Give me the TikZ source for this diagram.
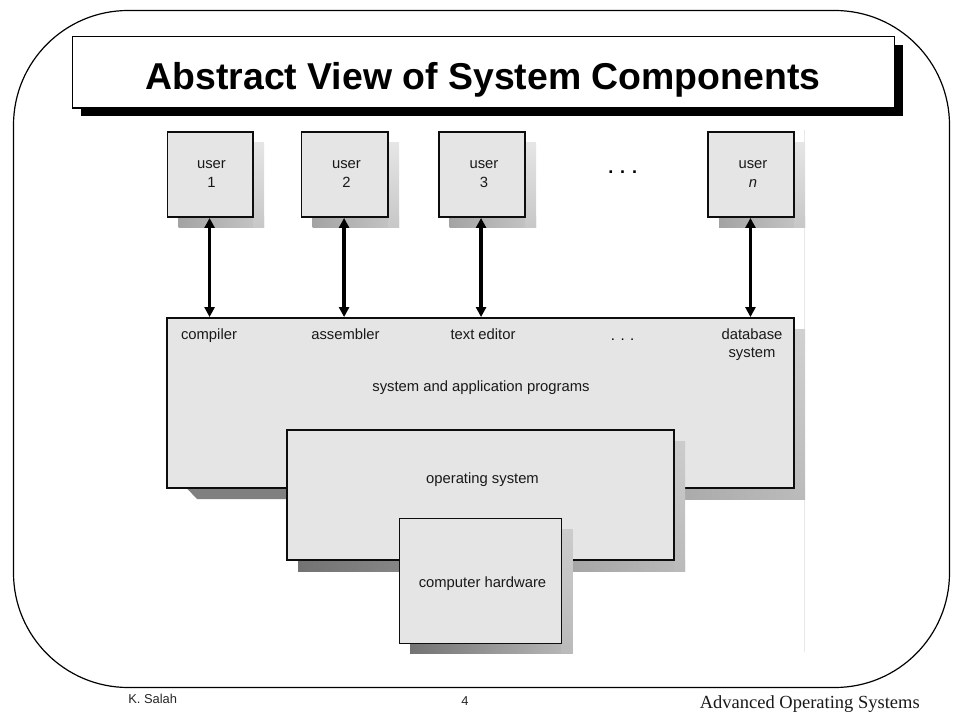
\documentclass[tikz,border=0pt]{standalone}
\usepackage{fontspec}
\setmainfont{Liberation Sans}
\newfontfamily\timesfont{Liberation Serif}
\usetikzlibrary{arrows.meta}
\definecolor{boxfill}{HTML}{E5E5E5}
\newcommand{\pxfont}[1]{\fontsize{\fpeval{#1*0.75}}{\fpeval{#1*0.75*1.25}}\selectfont}
\tikzset{
  x=0.75pt,y=-0.75pt,
  frameline/.style={draw=black,line width=0.9pt,rounded corners=86pt},
  titlebox/.style={draw=black,fill=white,line width=0.8pt,minimum width=616.5pt,minimum height=53.6pt,inner sep=0pt},
  titleshadow/.style={fill=black,draw=none,minimum width=616.5pt,minimum height=53.6pt,inner sep=0pt},
  panel/.style={draw=black!95,fill=boxfill,line width=1.4pt,inner sep=0pt},
  txt/.style={inner sep=0pt,anchor=base,align=center,font=\pxfont{14.8},text=black!90},
  link/.style={draw=black,line width=2.4pt,{Triangle[width=7.5pt,length=7.5pt]}-{Triangle[width=7.5pt,length=7.5pt]}},
  foot/.style={inner sep=0pt,anchor=base,font=\pxfont{12.9},text=black!85},
}
\newcommand{\shadowstrips}[7]{%
  % x-start bottom, x-end box, y-top strip, y-bottom box, bottom-left col, bottom-right col, right-top col
  \shade[left color=#5,right color=#6] (#1,#4) rectangle (#2+11,#4+11);
  \shade[top color=#7,bottom color=#6] (#2,#3) rectangle (#2+11,#4+11);
}
\begin{document}
\begin{tikzpicture}
\useasboundingbox (0,0) rectangle (960,720);
\path[frameline] (13.5,10.5) rectangle (949.5,687.5);

% title
\node[titleshadow] (titleshade) at (491.5,80.3) {};
\node[titlebox] (titlebox) at (483.5,72.3) {};
\node[inner sep=0pt,anchor=base,font=\pxfont{37.4}\bfseries] (title) at (483,90) {Abstract View of System Components};

% faint page edge of the pasted figure
\draw[black!9,line width=0.6pt] (804.7,130) -- (804.7,652);

% user shadows
\shadowstrips{178.5}{253}{143}{217}{black!36}{black!22}{black!10}
\shadowstrips{312.5}{388}{143}{217}{black!36}{black!22}{black!10}
\shadowstrips{449.5}{525}{143}{217}{black!36}{black!22}{black!10}
\shadowstrips{719}{794}{143}{217}{black!36}{black!22}{black!10}

% users
\node[panel,minimum width=64.1pt,minimum height=63.8pt] (u1) at (210.25,174.5) {};
\node[panel,minimum width=64.8pt,minimum height=63.8pt] (u2) at (344.75,174.5) {};
\node[panel,minimum width=64.8pt,minimum height=63.8pt] (u3) at (482,174.5) {};
\node[panel,minimum width=64.5pt,minimum height=63.8pt] (un) at (751,174.5) {};
\node[txt] (l1) at (211.5,187.3) {user\\1};
\node[txt] (l2) at (346.5,187.3) {user\\2};
\node[txt] (l3) at (484,187.3) {user\\3};
\node[txt] (ln) at (753,187.3) {user\\\textit{n}};
\node[inner sep=0pt,anchor=base,font=\pxfont{18}\bfseries] (dots1) at (622.7,174) {.\hspace{5.2pt}.\hspace{5.2pt}.};

% system and application programs
\fill[black!50] (186.5,488) -- (287,488) -- (287,499) -- (197,499) -- cycle;
\shade[left color=black!55,right color=black!27] (287,488) rectangle (794,499);
\shade[top color=black!18,bottom color=black!27] (794,329) rectangle (805,499);
\node[panel,minimum width=470pt,minimum height=127.5pt] (sys) at (480.75,403) {};
\node[txt] (c1) at (209,339.5) {compiler};
\node[txt] (c2) at (345.5,339.5) {assembler};
\node[txt] (c3) at (483,339.5) {text editor};
\node[inner sep=0pt,anchor=base,font=\pxfont{15}] (dots2) at (622.7,340) {.\hspace{4.1pt}.\hspace{4.1pt}.};
\node[txt] (c4) at (752,357.5) {database\\system};
\node[txt] (c5) at (481,391) {system and application programs};

% operating system
\shade[left color=black!55,right color=black!27] (298,560) rectangle (685,571);
\shade[top color=black!20,bottom color=black!27] (674,441) rectangle (685,571);
\node[panel,minimum width=290.2pt,minimum height=97.5pt] (os) at (480.5,495) {};
\node[txt] (osl) at (482.5,483.3) {operating system};

% hardware
\shade[left color=black!55,right color=black!27] (410,643.5) rectangle (572.5,653.5);
\shade[top color=black!20,bottom color=black!27] (561.5,529.5) rectangle (572.5,653.5);
\node[panel,minimum width=121.5pt,minimum height=93.7pt] (hw) at (480.5,581) {};
\node[txt] (hwl) at (482.5,587.3) {computer hardware};

% connectors
\draw[link] ([xshift=-0.5pt]u1.south) -- ([xshift=-0.5pt]u1.south |- sys.north);
\draw[link] ([xshift=-0.5pt]u2.south) -- ([xshift=-0.5pt]u2.south |- sys.north);
\draw[link] ([xshift=-0.7pt]u3.south) -- ([xshift=-0.7pt]u3.south |- sys.north);
\draw[link] ([xshift=-0.4pt]un.south) -- ([xshift=-0.4pt]un.south |- sys.north);

% footer
\node[foot,anchor=base west] (author) at (128,703.5) {K. Salah};
\node[foot] (page) at (465,705) {4};
\node[inner sep=0pt,anchor=base east,font=\timesfont\pxfont{18.5},text=black!90] (course) at (920,708.3) {Advanced Operating Systems};
\end{tikzpicture}
\end{document}
